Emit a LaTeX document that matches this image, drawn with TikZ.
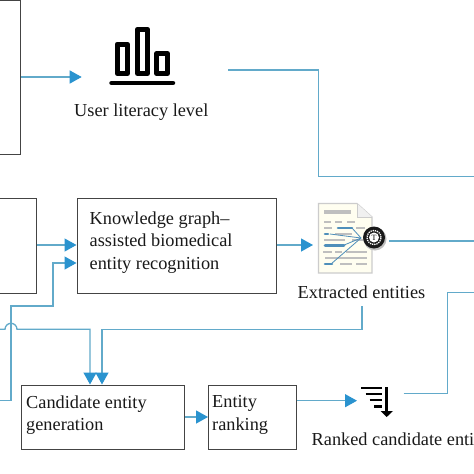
\documentclass[tikz,border=0pt]{standalone}
\usepackage{fontspec}
\setmainfont{Liberation Serif}
\usetikzlibrary{arrows.meta}
\definecolor{flow}{HTML}{62AACA}
\definecolor{tipblue}{HTML}{2A93CF}
\definecolor{boxedge}{HTML}{444444}
\definecolor{docblue}{HTML}{4F8FBA}
\tikzset{
  x=1pt,y=-1pt,
  procbox/.style={draw=boxedge,line width=1.2pt,inner sep=0pt,anchor=north west},
  conn/.style={draw=flow,line width=1.3pt},
  arr/.style={conn,-{Triangle[length=12pt,width=13pt,color=tipblue,fill=tipblue]}},
  lab/.style={font=\fontsize{18.3}{22.3}\selectfont,align=left,text=black!90,inner sep=0pt},
  ic/.style={line width=5pt,draw=black,line join=round},
  gr/.style={line width=1.5pt,draw=black!25},
  bl/.style={line width=2.6pt,draw=docblue,line cap=round},
  bln/.style={line width=.8pt,draw=docblue},
}
\begin{document}
\begin{tikzpicture}
\useasboundingbox (0,0) rectangle (474,474);
\clip (0,0) rectangle (474,474);
\fill[white] (0,0) rectangle (474,474);
% boxes
\node[procbox,minimum width=30pt,minimum height=153.5pt] (top) at (-10,0) {};
\node[procbox,minimum width=46pt,minimum height=95pt] (mid) at (-10.5,197.5) {};
\node[procbox,minimum width=199pt,minimum height=95pt] (kg) at (76.5,197.5) {};
\node[lab,anchor=north west] (kgt) at (89.5,211.5) {Knowledge graph--\\assisted biomedical\\entity recognition};
\node[procbox,minimum width=163pt,minimum height=64.5pt] (cand) at (21,384.5) {};
\node[lab,anchor=north west] (candt) at (26,395.5) {Candidate entity\\generation};
\node[procbox,minimum width=87.5pt,minimum height=64.5pt] (rank) at (208,384.5) {};
\node[lab,anchor=north west] (rankt) at (212,395.5) {Entity\\ranking};
% labels
\node[lab,anchor=west] (ul) at (74,112) {User literacy level};
\node[lab,anchor=west] (ee) at (297.5,292) {Extracted entities};
\node[lab,anchor=west] (rc) at (311.5,439) {Ranked candidate entities};
% bar icon
\draw[ic] (117.2,44.2) rectangle (127.5,73.5);
\draw[ic] (137.5,29.2) rectangle (147.5,73.5);
\draw[ic] (156.8,53.5) rectangle (167.5,73.5);
\draw[line width=4.5pt,line cap=round,draw=black] (111.5,83) -- (173,83);
% doc icon
\fill[white!94!yellow,draw=black!20,line width=1.2pt] (318.5,203.5) -- (357,203.5) -- (372,217) -- (372,273) -- (318.5,273) -- cycle;
\draw[draw=black!20,line width=1pt,fill=black!6] (357,203.5) -- (357,217) -- (372,217);
\draw[line width=4pt,draw=black!25] (324,211.5) -- (351,211.5);
\foreach \a/\b/\y in {324/331/222,335/342/222,347/355/222,324/332/228,356/365/228,335/352/234,324/345/240,352/365/240,346/367/252,323/332/252,335/342/252,325/367/258,340/352/264,356/367/264}
  \draw[gr] (\a,\y) -- (\b,\y);
\draw[bl] (338,228) -- (352,228);
\draw[bl] (325,234) -- (328,234);
\draw[bl] (325,245.5) -- (344,245.5);
\draw[bl] (325,264) -- (332,264);
\draw[bln] (361,238) -- (352,228);
\draw[bln] (361,238) -- (330,234);
\draw[bln] (361,238) -- (343,245.5);
\draw[bln] (361,238) -- (331,264);
\fill[black!25] (375,239) circle (11.5pt);
\fill[black!90] (374,237.5) circle (11pt);
\draw[white,line width=1.3pt,dash pattern=on 1.3pt off .9pt] (374,237.5) circle (7pt);
\fill[white] (374,237.5) circle (5pt);
\node[font=\fontsize{8}{8}\selectfont,inner sep=0pt] (tg) at (374,237.5) {T};
% rank icon
\draw[line width=2.6pt] (361,388) -- (382,388);
\draw[line width=2.6pt] (365.5,394) -- (382,394);
\draw[line width=2.6pt] (369.5,400) -- (382,400);
\draw[line width=2.6pt] (374,406.5) -- (382,406.5);
\draw[line width=2.6pt] (386.7,387) -- (386.7,412);
\fill (380.5,411) -- (393,411) -- (386.7,417) -- cycle;
% free ends
\coordinate (a1) at (81.7,77);
\coordinate (s1) at (228,70);
\coordinate (b1) at (318.3,70);
\coordinate (b2) at (318.3,176.7);
\coordinate (e1) at (474,176.7);
\coordinate (e2) at (474,241);
\coordinate (s2) at (389,241);
\coordinate (s3) at (403.5,393.5);
\coordinate (b3) at (447.8,393.5);
\coordinate (b4) at (447.8,292.7);
\coordinate (e3) at (474,292.7);
\coordinate (s4) at (362,306);
\coordinate (b5) at (362,329.3);
\coordinate (b6) at (102,329.3);
\coordinate (w1) at (-2,329.3);
\coordinate (h1) at (5,329.3);
\coordinate (b7) at (90,329.3);
\coordinate (w2) at (-2,400.7);
\coordinate (b8) at (11,400.7);
\coordinate (b9) at (11,306);
\coordinate (b10) at (53,306);
\coordinate (b11) at (53,263);
\coordinate (et) at (298,245);
\coordinate (rt) at (357,400.7);
% connectors
\draw[arr] (top.east |- a1) -- (a1);
\draw[conn] (s1) -- (b1) -- (b2) -- (e1);
\draw[arr] (mid.east |- 0,245) -- (kg.west |- 0,245);
\draw[arr] (w2) -- (b8) -- (b9) -- (b10) -- (b11) -- (kg.west |- b11);
\draw[arr] (kg.east |- et) -- (313,245);
\draw[conn] (s2) -- (e2);
\draw[arr] (w1) -- (h1) arc[start angle=180,end angle=0,radius=6pt] -- (b7) -- (b7 |- cand.north);
\draw[arr] (s4) -- (b5) -- (b6) -- (b6 |- cand.north);
\draw[arr] (cand.east |- 0,417) -- (rank.west |- 0,417);
\draw[arr] (rank.east |- rt) -- (rt);
\draw[conn] (s3) -- (b3) -- (b4) -- (e3);
\end{tikzpicture}
\end{document}
